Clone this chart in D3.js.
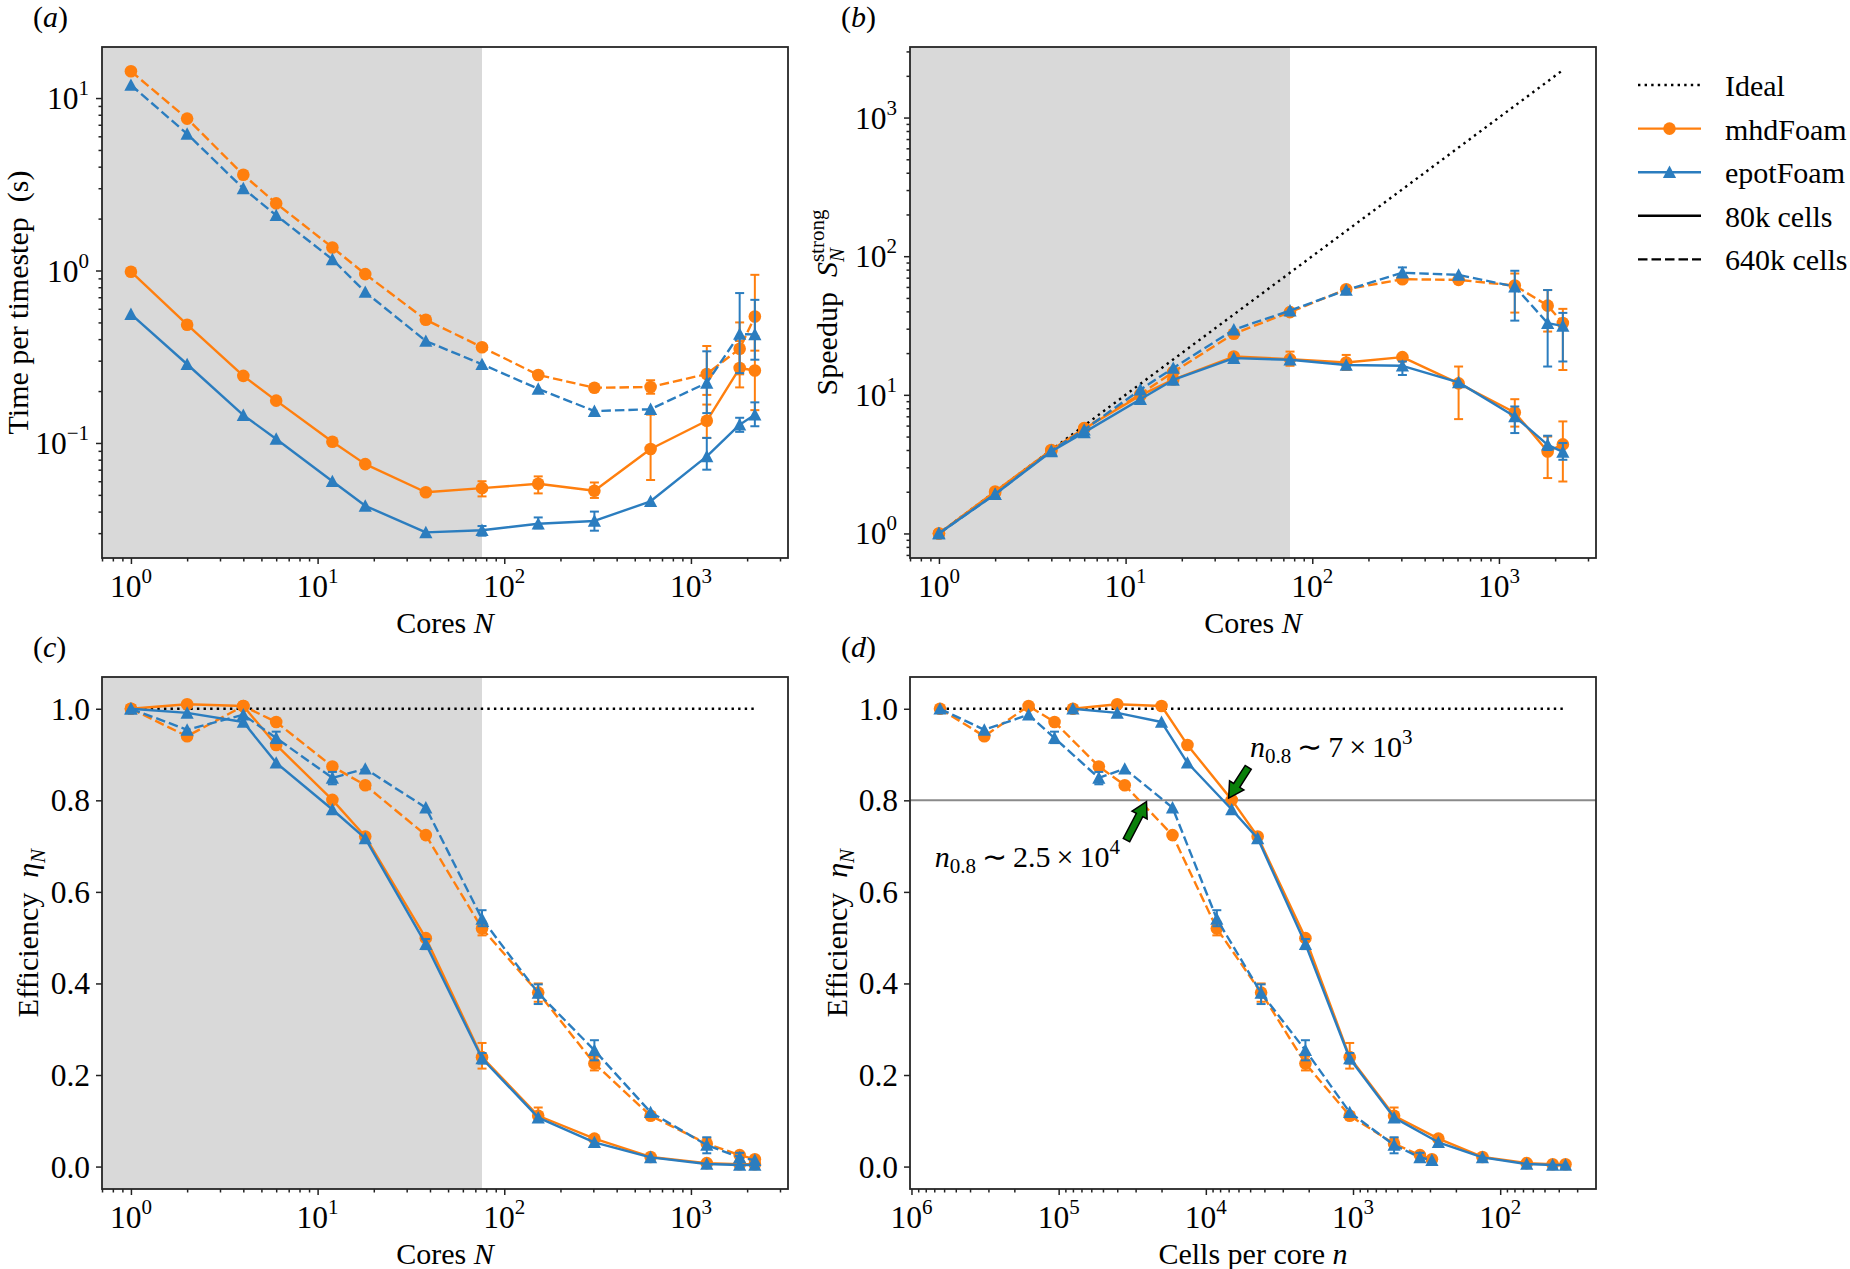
<!DOCTYPE html>
<html>
<head>
<meta charset="utf-8">
<script src="https://cdn.jsdelivr.net/npm/d3@7/dist/d3.min.js"></script>
<style>
html,body{margin:0;padding:0;background:#fff;}
svg text{font-family:"Liberation Serif","Times New Roman",Times,serif;fill:#000;white-space:pre;}
</style>
</head>
<body>
<script>
// ---------------- DATA ----------------
const cores = [1, 2, 4, 6, 12, 18, 38, 76, 152, 304, 608, 1216, 1824, 2200];
const cellsPerCore80k  = [80000, 40000, 20000, 13333, 6667, 4444, 2105, 1053, 526, 263, 132, 66, 44, 36];
const cellsPerCore640k = [640000, 320000, 160000, 106667, 53333, 35556, 16842, 8421, 4211, 2105, 1053, 526, 351, 291];
const shadedUpTo = 76;

// (a) time per timestep (s)
const timeMhd80k    = [0.984, 0.485, 0.245, 0.176, 0.1016, 0.0754, 0.0518, 0.0547, 0.058, 0.0528, 0.0923, 0.1345, 0.272, 0.263];
const timeMhd80kLo  = [null, null, null, null, null, null, null, 0.049, 0.051, 0.048, 0.061, 0.107, 0.21, 0.155];
const timeMhd80kHi  = [null, null, null, null, null, null, null, 0.060, 0.064, 0.059, 0.146, 0.167, 0.39, 0.415];
const timeEpot80k   = [0.558, 0.286, 0.145, 0.1055, 0.06, 0.0432, 0.0303, 0.0312, 0.034, 0.0353, 0.0459, 0.0836, 0.1276, 0.146];
const timeEpot80kLo = [null, null, null, null, null, null, null, 0.029, 0.032, 0.031, null, 0.070, 0.116, 0.125];
const timeEpot80kHi = [null, null, null, null, null, null, null, 0.033, 0.037, 0.040, null, 0.107, 0.140, 0.172];
const timeMhd640k    = [14.3, 7.6, 3.59, 2.45, 1.36, 0.953, 0.518, 0.359, 0.248, 0.209, 0.211, 0.251, 0.352, 0.541];
const timeMhd640kLo  = [null, null, null, null, null, null, null, null, null, null, 0.193, 0.19, 0.25, 0.343];
const timeMhd640kHi  = [null, null, null, null, null, null, null, null, null, null, 0.231, 0.365, 0.5, 0.944];
const timeEpot640k   = [11.9, 6.2, 2.99, 2.09, 1.16, 0.75, 0.39, 0.286, 0.206, 0.153, 0.157, 0.223, 0.428, 0.426];
const timeEpot640kLo = [null, null, null, null, null, null, null, null, null, null, null, 0.149, 0.254, 0.304];
const timeEpot640kHi = [null, null, null, null, null, null, null, null, null, null, null, 0.34, 0.74, 0.676];

// (b) strong speedup
const speedMhd80k    = [1, 2.01, 4.0, 5.7, 9.9, 12.9, 18.9, 18.1, 17.1, 18.7, 12.1, 7.45, 3.9, 4.39];
const speedMhd80kLo  = [null, null, null, null, null, null, null, 16.2, 15.1, null, 6.68, 5.9, 2.51, 2.37];
const speedMhd80kHi  = [null, null, null, null, null, null, null, 20.5, 19.4, null, 16.0, 9.3, 5.0, 6.43];
const speedEpot80k   = [1, 1.92, 3.9, 5.36, 9.3, 12.8, 18.4, 17.9, 16.4, 16.2, 12.3, 6.98, 4.36, 3.88];
const speedEpot80kLo = [null, null, null, null, null, null, null, null, null, 13.9, null, 5.3, 4.0, 3.4];
const speedEpot80kHi = [null, null, null, null, null, null, null, null, null, 17.4, null, 8.24, 5.07, 4.49];
const speedMhd640k    = [1, 1.97, 3.95, 5.75, 10.1, 14.6, 27.6, 39.5, 57.7, 68.2, 67.5, 61.4, 44, 33];
const speedMhd640kLo  = [null, null, null, null, null, null, null, null, null, null, null, 39.2, 28.6, 15.1];
const speedMhd640kHi  = [null, null, null, null, null, null, null, null, null, null, null, 75, 57, 41.7];
const speedEpot640k   = [1, 1.92, 3.95, 5.6, 10.9, 15.6, 29.5, 40.5, 57, 76, 73.3, 60.3, 32.9, 31.4];
const speedEpot640kLo = [null, null, null, null, null, null, null, null, null, 72, null, 34.3, 16, 17.4];
const speedEpot640kHi = [null, null, null, null, null, null, null, null, null, 83, null, 78.5, 57, 39];

// (c),(d) efficiency
const effMhd80k    = [1.0, 1.01, 1.006, 0.921, 0.801, 0.721, 0.499, 0.239, 0.111, 0.061, 0.021, 0.0075, 0.005, 0.005];
const effMhd80kLo  = [null, null, null, null, null, null, null, 0.214, 0.098, null, null, null, null, null];
const effMhd80kHi  = [null, null, null, null, null, null, null, 0.27, 0.129, null, null, null, null, null];
const effEpot80k   = [1.0, 0.991, 0.971, 0.882, 0.78, 0.717, 0.486, 0.236, 0.107, 0.053, 0.02, 0.0055, 0.0035, 0.0035];
const effEpot80kLo = [null, null, null, null, null, null, 0.475, 0.225, null, null, null, null, null, null];
const effEpot80kHi = [null, null, null, null, null, null, 0.497, 0.248, null, null, null, null, null, null];
const effMhd640k    = [1.0, 0.94, 1.006, 0.971, 0.874, 0.833, 0.724, 0.52, 0.38, 0.225, 0.111, 0.05, 0.025, 0.016];
const effMhd640kLo  = [null, null, null, null, null, null, null, 0.505, 0.36, 0.21, null, 0.04, null, null];
const effMhd640kHi  = [null, null, null, null, null, null, null, 0.535, 0.40, 0.24, null, 0.062, null, null];
const effEpot640k   = [1.0, 0.954, 0.987, 0.936, 0.849, 0.869, 0.784, 0.541, 0.379, 0.254, 0.1185, 0.047, 0.02, 0.014];
const effEpot640kLo = [null, null, null, 0.925, 0.835, null, null, 0.525, 0.355, 0.232, null, 0.029, 0.01, null];
const effEpot640kHi = [null, null, null, 0.95, 0.862, null, null, 0.56, 0.398, 0.276, null, 0.064, 0.03, null];

// annotations in (d): [tip n, tip eff, tail n, tail eff]
const annoArrows = [[7000, 0.805, 5150, 0.872], [25300, 0.797, 34600, 0.713]];
const annoTexts = [
  {n: 5020, eff: 0.895, mant: '7', exp: '3'},
  {n: 695000, eff: 0.655, mant: '2.5', exp: '4'}
];

const legendItems = [
  {label: 'Ideal', kind: 'dotted'},
  {label: 'mhdFoam', kind: 'mhd'},
  {label: 'epotFoam', kind: 'epot'},
  {label: '80k cells', kind: 'solid'},
  {label: '640k cells', kind: 'dashed'}
];

// ---------------- STYLE / LAYOUT ----------------
const ORANGE = '#ff7f0e', BLUE = '#2b7dbf', SHADE = '#d9d9d9';
const FS = 30, FST = 31.5, FSS = 21, LW = 2.4, DASH = '9.5,4', DOT = '2.4,4.2';
const svg = d3.select('body').append('svg').attr('width', 1850).attr('height', 1269);

const P = {
  a: {x: 102, y: 47, w: 686, h: 511},
  b: {x: 910, y: 47, w: 686, h: 511},
  c: {x: 102, y: 677, w: 686, h: 512},
  d: {x: 910, y: 677, w: 686, h: 512}
};
const coreDom = [Math.pow(10, -0.155), Math.pow(10, 3.52)];
const xA = d3.scaleLog().domain(coreDom).range([P.a.x, P.a.x + P.a.w]);
const yA = d3.scaleLog().domain([Math.pow(10, -1.667), Math.pow(10, 1.296)]).range([P.a.y + P.a.h, P.a.y]);
const xB = d3.scaleLog().domain(coreDom).range([P.b.x, P.b.x + P.b.w]);
const yB = d3.scaleLog().domain([Math.pow(10, -0.177), Math.pow(10, 3.509)]).range([P.b.y + P.b.h, P.b.y]);
const xC = d3.scaleLog().domain(coreDom).range([P.c.x, P.c.x + P.c.w]);
const yC = d3.scaleLinear().domain([-0.049, 1.0694]).range([P.c.y + P.c.h, P.c.y]);
const xD = d3.scaleLog().domain([Math.pow(10, 6.01), Math.pow(10, 1.349)]).range([P.d.x, P.d.x + P.d.w]);
const yD = d3.scaleLinear().domain([-0.049, 1.0694]).range([P.d.y + P.d.h, P.d.y]);

function logMajors(s) {
  const d = s.domain(), lo = Math.min(...d), hi = Math.max(...d), out = [];
  for (let k = Math.ceil(Math.log10(lo) - 1e-9); k <= Math.floor(Math.log10(hi) + 1e-9); k++) out.push(k);
  return out;
}
function logMinors(s) {
  const d = s.domain(), lo = Math.min(...d), hi = Math.max(...d), out = [];
  for (let k = Math.floor(Math.log10(lo)); k <= Math.ceil(Math.log10(hi)); k++)
    for (let m = 2; m <= 9; m++) { const v = m * Math.pow(10, k); if (v >= lo && v <= hi) out.push(v); }
  return out;
}
function styleAxis(g) {
  g.select('.domain').remove();
  g.selectAll('.tick line').attr('stroke', '#222').attr('stroke-width', 1.5);
  g.selectAll('.tick text').remove();
}
function supText(parent, base, exp) {
  parent.append('tspan').text(base);
  parent.append('tspan').attr('font-size', FSS).attr('dy', -14).text(exp.replace('-', '\u2212'));
}

function drawAxes(p, xs, ys, xLog, yLog) {
  const g = svg.append('g');
  if (xLog) {
    const maj = logMajors(xs);
    g.append('g').attr('transform', `translate(0,${p.y + p.h})`)
      .call(d3.axisBottom(xs).tickValues(maj.map(k => Math.pow(10, k))).tickSize(6)).call(styleAxis);
    g.append('g').attr('transform', `translate(0,${p.y + p.h})`)
      .call(d3.axisBottom(xs).tickValues(logMinors(xs)).tickSize(3.5)).call(styleAxis);
    maj.forEach(k => {
      const t = g.append('text').attr('x', xs(Math.pow(10, k))).attr('y', p.y + p.h + 39)
        .attr('text-anchor', 'middle').attr('font-size', FST);
      supText(t, '10', String(k));
    });
  }
  if (yLog) {
    const maj = logMajors(ys);
    g.append('g').attr('transform', `translate(${p.x},0)`)
      .call(d3.axisLeft(ys).tickValues(maj.map(k => Math.pow(10, k))).tickSize(6)).call(styleAxis);
    g.append('g').attr('transform', `translate(${p.x},0)`)
      .call(d3.axisLeft(ys).tickValues(logMinors(ys)).tickSize(3.5)).call(styleAxis);
    maj.forEach(k => {
      const t = g.append('text').attr('x', p.x - 13).attr('y', ys(Math.pow(10, k)) + 11)
        .attr('text-anchor', 'end').attr('font-size', FST);
      supText(t, '10', String(k));
    });
  } else {
    const vals = [0, 0.2, 0.4, 0.6, 0.8, 1.0];
    g.append('g').attr('transform', `translate(${p.x},0)`)
      .call(d3.axisLeft(ys).tickValues(vals).tickSize(6)).call(styleAxis);
    vals.forEach(v => {
      g.append('text').attr('x', p.x - 12).attr('y', ys(v) + 11).attr('text-anchor', 'end')
        .attr('font-size', FST).text(d3.format('.1f')(v));
    });
  }
}

function frame(p) {
  svg.append('rect').attr('x', p.x).attr('y', p.y).attr('width', p.w).attr('height', p.h)
    .attr('fill', 'none').attr('stroke', '#262626').attr('stroke-width', 1.8);
}
function shade(p, xs) {
  svg.append('rect').attr('x', p.x).attr('y', p.y).attr('width', xs(shadedUpTo) - p.x).attr('height', p.h)
    .attr('fill', SHADE);
}

const triPath = 'M0,-6.6L6.6,5.8L-6.6,5.8Z';
const RAD = 6.3;
function drawSeries(xs, ys, xv, yv, lo, hi, color, dashed, marker) {
  const g = svg.append('g');
  const pts = xv.map((x, i) => ({x, y: yv[i], lo: lo ? lo[i] : null, hi: hi ? hi[i] : null}));
  const line = d3.line().x(d => xs(d.x)).y(d => ys(d.y));
  g.append('path').attr('d', line(pts)).attr('fill', 'none').attr('stroke', color)
    .attr('stroke-width', LW).attr('stroke-dasharray', dashed ? DASH : null).attr('stroke-linejoin', 'round');
  pts.filter(d => d.lo != null).forEach(d => {
    const cx = xs(d.x), y1 = ys(d.lo), y2 = ys(d.hi);
    g.append('line').attr('x1', cx).attr('x2', cx).attr('y1', y1).attr('y2', y2).attr('stroke', color).attr('stroke-width', 2);
    [y1, y2].forEach(yy => g.append('line').attr('x1', cx - 4.5).attr('x2', cx + 4.5).attr('y1', yy).attr('y2', yy)
      .attr('stroke', color).attr('stroke-width', 2));
  });
  pts.forEach(d => {
    if (marker === 'circle') g.append('circle').attr('cx', xs(d.x)).attr('cy', ys(d.y)).attr('r', RAD).attr('fill', color);
    else g.append('path').attr('d', triPath).attr('transform', `translate(${xs(d.x)},${ys(d.y)})`).attr('fill', color);
  });
}

function refLine(x1, y1, x2, y2, color, dash, w) {
  svg.append('line').attr('x1', x1).attr('y1', y1).attr('x2', x2).attr('y2', y2)
    .attr('stroke', color).attr('stroke-width', w || LW).attr('stroke-dasharray', dash);
}

function panelTitle(p, letter) {
  const t = svg.append('text').attr('x', p.x - 69).attr('y', p.y - 20).attr('font-size', FS);
  t.append('tspan').text('(');
  t.append('tspan').attr('font-style', 'italic').text(letter);
  t.append('tspan').text(')');
}
function xLabel(p, main, ital) {
  const t = svg.append('text').attr('x', p.x + p.w / 2).attr('y', p.y + p.h + 75).attr('text-anchor', 'middle').attr('font-size', FS);
  t.append('tspan').text(main);
  t.append('tspan').attr('font-style', 'italic').text(ital);
}

// ---------------- PANEL (a) ----------------
shade(P.a, xA);
drawAxes(P.a, xA, yA, true, true);
drawSeries(xA, yA, cores, timeMhd80k, timeMhd80kLo, timeMhd80kHi, ORANGE, false, 'circle');
drawSeries(xA, yA, cores, timeMhd640k, timeMhd640kLo, timeMhd640kHi, ORANGE, true, 'circle');
drawSeries(xA, yA, cores, timeEpot80k, timeEpot80kLo, timeEpot80kHi, BLUE, false, 'tri');
drawSeries(xA, yA, cores, timeEpot640k, timeEpot640kLo, timeEpot640kHi, BLUE, true, 'tri');
frame(P.a);
panelTitle(P.a, 'a');
xLabel(P.a, 'Cores ', 'N');
svg.append('text').attr('transform', `translate(28,${P.a.y + P.a.h / 2}) rotate(-90)`).attr('text-anchor', 'middle')
  .attr('font-size', FS).text('Time per timestep  (s)');

// ---------------- PANEL (b) ----------------
shade(P.b, xB);
drawAxes(P.b, xB, yB, true, true);
refLine(xB(cores[0]), yB(cores[0]), xB(cores[cores.length - 1]), yB(cores[cores.length - 1]), '#000', DOT, 2.4);
drawSeries(xB, yB, cores, speedMhd80k, speedMhd80kLo, speedMhd80kHi, ORANGE, false, 'circle');
drawSeries(xB, yB, cores, speedMhd640k, speedMhd640kLo, speedMhd640kHi, ORANGE, true, 'circle');
drawSeries(xB, yB, cores, speedEpot80k, speedEpot80kLo, speedEpot80kHi, BLUE, false, 'tri');
drawSeries(xB, yB, cores, speedEpot640k, speedEpot640kLo, speedEpot640kHi, BLUE, true, 'tri');
frame(P.b);
panelTitle(P.b, 'b');
xLabel(P.b, 'Cores ', 'N');
{
  const t = svg.append('text').attr('transform', `translate(837,${P.b.y + P.b.h / 2}) rotate(-90)`)
    .attr('text-anchor', 'middle').attr('font-size', FS);
  t.append('tspan').text('Speedup  ');
  t.append('tspan').attr('font-style', 'italic').text('S');
  t.append('tspan').attr('font-style', 'italic').attr('font-size', FSS).attr('dy', 7).text('N');
  t.append('tspan').attr('font-size', FSS).attr('dx', -14).attr('dy', -20).text('strong');
}

// ---------------- PANEL (c) ----------------
shade(P.c, xC);
drawAxes(P.c, xC, yC, true, false);
refLine(xC(cores[0]), yC(1), xC(cores[cores.length - 1]), yC(1), '#000', DOT, 2.4);
drawSeries(xC, yC, cores, effMhd80k, effMhd80kLo, effMhd80kHi, ORANGE, false, 'circle');
drawSeries(xC, yC, cores, effMhd640k, effMhd640kLo, effMhd640kHi, ORANGE, true, 'circle');
drawSeries(xC, yC, cores, effEpot80k, effEpot80kLo, effEpot80kHi, BLUE, false, 'tri');
drawSeries(xC, yC, cores, effEpot640k, effEpot640kLo, effEpot640kHi, BLUE, true, 'tri');
frame(P.c);
panelTitle(P.c, 'c');
xLabel(P.c, 'Cores ', 'N');
function effLabel(x, p) {
  const t = svg.append('text').attr('transform', `translate(${x},${p.y + p.h / 2}) rotate(-90)`)
    .attr('text-anchor', 'middle').attr('font-size', FS);
  t.append('tspan').text('Efficiency  ');
  t.append('tspan').attr('font-style', 'italic').text('\u03b7');
  t.append('tspan').attr('font-style', 'italic').attr('font-size', FSS).attr('dy', 7).text('N');
}
effLabel(37.5, P.c);

// ---------------- PANEL (d) ----------------
drawAxes(P.d, xD, yD, true, false);
refLine(P.d.x, yD(0.8), P.d.x + P.d.w, yD(0.8), '#8a8a8a', null, 2);
const allCells = cellsPerCore640k.concat(cellsPerCore80k);
refLine(xD(d3.max(allCells)), yD(1), xD(d3.min(allCells)), yD(1), '#000', DOT, 2.4);
drawSeries(xD, yD, cellsPerCore80k, effMhd80k, effMhd80kLo, effMhd80kHi, ORANGE, false, 'circle');
drawSeries(xD, yD, cellsPerCore640k, effMhd640k, effMhd640kLo, effMhd640kHi, ORANGE, true, 'circle');
drawSeries(xD, yD, cellsPerCore80k, effEpot80k, effEpot80kLo, effEpot80kHi, BLUE, false, 'tri');
drawSeries(xD, yD, cellsPerCore640k, effEpot640k, effEpot640kLo, effEpot640kHi, BLUE, true, 'tri');
frame(P.d);
panelTitle(P.d, 'd');
xLabel(P.d, 'Cells per core ', 'n');
effLabel(846.5, P.d);

annoArrows.forEach(a => {
  const tx = xD(a[0]), ty = yD(a[1]), sx = xD(a[2]), sy = yD(a[3]);
  const L = Math.hypot(sx - tx, sy - ty), ux = (sx - tx) / L, uy = (sy - ty) / L, vx = -uy, vy = ux;
  const hl = 15, hw = 8.5, sw = 3.6;
  const pt = (a1, b1) => [tx + ux * a1 + vx * b1, ty + uy * a1 + vy * b1];
  const poly = [pt(0, 0), pt(hl, hw), pt(hl, sw), pt(L, sw), pt(L, -sw), pt(hl, -sw), pt(hl, -hw)];
  svg.append('path').attr('d', 'M' + poly.map(q => q.join(',')).join('L') + 'Z')
    .attr('fill', '#0a800a').attr('stroke', '#000').attr('stroke-width', 1.5).attr('stroke-linejoin', 'miter');
});
annoTexts.forEach(a => {
  const t = svg.append('text').attr('x', xD(a.n)).attr('y', yD(a.eff)).attr('font-size', FS);
  t.append('tspan').attr('font-style', 'italic').text('n');
  t.append('tspan').attr('font-size', FSS).attr('dy', 6).text('0.8');
  t.append('tspan').attr('dy', -6).text('\u2009\u223c\u2009' + a.mant + '\u2009\u00d7\u200910');
  t.append('tspan').attr('font-size', FSS).attr('dy', -13).text(a.exp);
});

// ---------------- LEGEND ----------------
const lg = svg.append('g');
legendItems.forEach((it, i) => {
  const cy = 85 + i * 43.6, x1 = 1638, x2 = 1701;
  let color = '#000', dash = null;
  if (it.kind === 'dotted') dash = DOT;
  if (it.kind === 'dashed') dash = DASH;
  if (it.kind === 'mhd') color = ORANGE;
  if (it.kind === 'epot') color = BLUE;
  lg.append('line').attr('x1', x1).attr('x2', x2).attr('y1', cy).attr('y2', cy).attr('stroke', color)
    .attr('stroke-width', it.kind === 'dotted' ? 2.4 : LW).attr('stroke-dasharray', dash);
  if (it.kind === 'mhd') lg.append('circle').attr('cx', (x1 + x2) / 2).attr('cy', cy).attr('r', RAD).attr('fill', color);
  if (it.kind === 'epot') lg.append('path').attr('d', triPath).attr('transform', `translate(${(x1 + x2) / 2},${cy})`).attr('fill', color);
  lg.append('text').attr('x', 1725).attr('y', cy + 11).attr('font-size', FS).text(it.label);
});
</script>
</body>
</html>
